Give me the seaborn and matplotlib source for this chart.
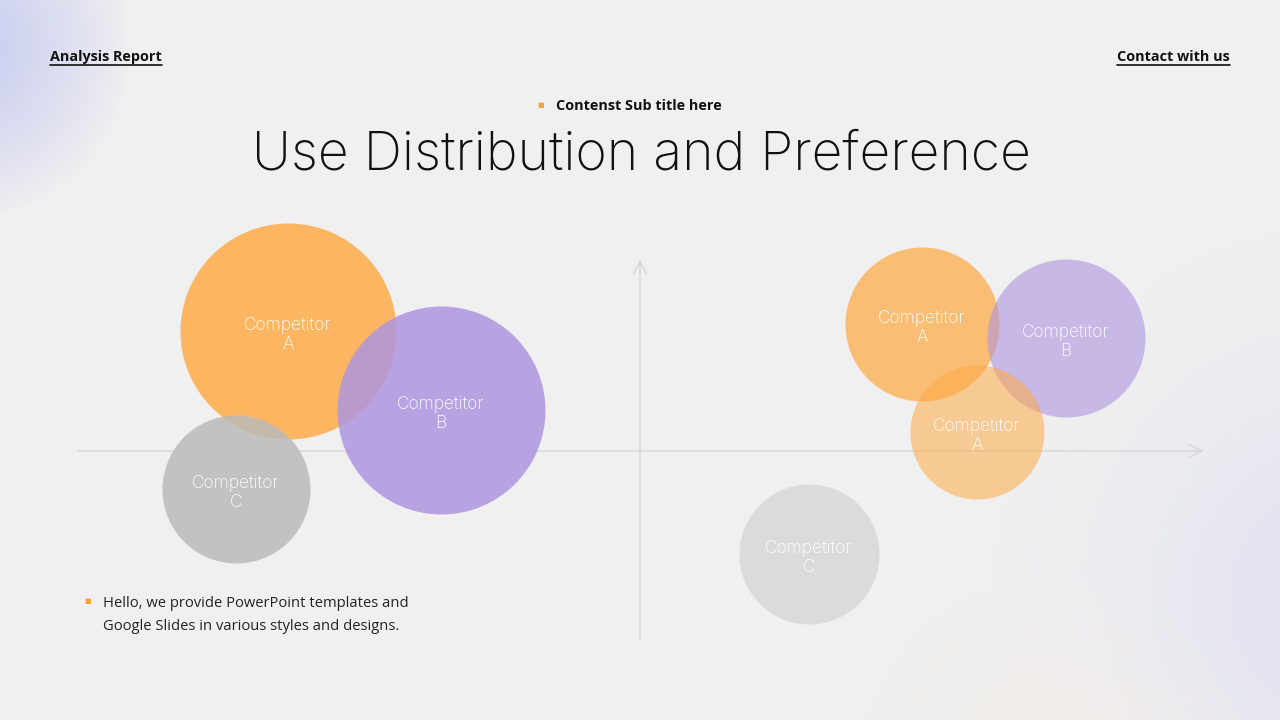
import numpy as np
import pandas as pd
import matplotlib.pyplot as plt
import seaborn as sns

# ==============================================================================
# DATOS
# ==============================================================================
grupos = ["left", "left", "left", "right", "right", "right", "right"]
competidores = ["A", "B", "C", "A", "B", "A", "C"]
pos_x = [-352, -199, -404, 282, 426, 337, 169]
pos_y = [120, 41, -38, 127, 113, 19, -103]
radio = [108, 104, 74, 77, 79, 67, 70]
opacidad = [0.84, 0.84, 0.84, 0.72, 0.60, 0.54, 0.38]

colores = {"A": "#FFAA44", "B": "#AE94E0", "C": "#BABABA"}

titulo = "Use Distribution and Preference"
subtitulo = "Contenst Sub title here"
texto_pie = "Hello, we provide PowerPoint templates and\nGoogle Slides in various styles and designs."

W, H, DPI = 1280, 720, 100
FONDO = "#F0F0F0"


def fondo_degradado():
    yy, xx = np.mgrid[0:H, 0:W].astype(float)
    img = np.ones((H, W, 3)) * 240.0
    # mancha lila arriba a la izquierda
    d = np.hypot(xx + 35, (yy - 45) / 1.05)
    w = np.clip(1 - d / 165, 0, 1) ** 0.85 * 0.95
    img = img * (1 - w[..., None]) + np.array([196, 200, 240]) * w[..., None]
    # mancha lavanda abajo a la derecha
    d = np.hypot(xx - 1330, (yy - 600) / 1.1)
    w = np.clip(1 - d / 340, 0, 1) ** 1.3 * 0.8
    img = img * (1 - w[..., None]) + np.array([220, 220, 242]) * w[..., None]
    # mancha melocoton abajo
    d = np.hypot(xx - 1070, (yy - 760) / 0.9)
    w = np.clip(1 - d / 210, 0, 1) ** 1.3 * 0.6
    img = img * (1 - w[..., None]) + np.array([248, 236, 226]) * w[..., None]
    return img / 255.0


def main():
    sns.set_style("white")
    plt.rcParams["font.family"] = ["Inter", "DejaVu Sans"]

    df = pd.DataFrame({
        "grupo": grupos,
        "competidor": competidores,
        "x": pos_x,
        "y": pos_y,
        "r": radio,
        "alpha": opacidad,
    })

    fig = plt.figure(figsize=(W / DPI, H / DPI), dpi=DPI, facecolor=FONDO)
    ax = fig.add_axes([0, 0, 1, 1])
    ax.set_xlim(-640, 640)
    ax.set_ylim(-269, 451)
    ax.set_aspect("equal")
    ax.axis("off")

    ax.imshow(fondo_degradado(), extent=(-640, 640, -269, 451), zorder=0, aspect="auto")

    # ejes en cruz
    gris = "#D6D6D6"
    ax.annotate("", xy=(566, 0), xytext=(-565, 0),
                arrowprops=dict(arrowstyle="->,head_length=0.9,head_width=0.45", color=gris, lw=1),
                zorder=1)
    ax.annotate("", xy=(0, 194), xytext=(0, -191),
                arrowprops=dict(arrowstyle="->,head_length=0.9,head_width=0.45", color=gris, lw=1),
                zorder=1)

    # burbujas
    for i, row in df.iterrows():
        diam_pt = 2 * row["r"] * 72 / DPI
        sns.scatterplot(x=[row["x"]], y=[row["y"]], s=diam_pt ** 2,
                        color=colores[row["competidor"]], alpha=row["alpha"],
                        linewidth=0, ax=ax, zorder=2 + i, legend=False)
        ax.text(row["x"], row["y"] - 4, f"Competitor\n{row['competidor']}",
                ha="center", va="center", color="white", fontsize=12.5,
                fontweight="light", linespacing=1.1, zorder=20)

    ax.set_xlim(-640, 640)
    ax.set_ylim(-269, 451)

    # textos
    fig.text(641 / W, 1 - 155 / H, titulo, ha="center", va="center",
             fontsize=38.5, fontweight="light", color="#111111")

    sans = ["Open Sans", "DejaVu Sans"]
    fig.text(556 / W, 1 - 106 / H, subtitulo, ha="left", va="center",
             fontsize=10.4, fontweight="bold", color="#111111", family=sans)
    fig.text(541 / W, 1 - 105 / H, "\u25A0", ha="center", va="center",
             fontsize=5, color="#F8A237", family=sans)

    t1 = fig.text(50 / W, 1 - 57 / H, "Analysis Report", ha="left", va="center",
                  fontsize=10.4, fontweight="bold", color="#111111", family=sans)
    t2 = fig.text(1230 / W, 1 - 57 / H, "Contact with us", ha="right", va="center",
                  fontsize=10.4, fontweight="bold", color="#111111", family=sans)

    fig.text(88 / W, 1 - 602 / H, "\u25A0", ha="center", va="center",
             fontsize=5, color="#F8A237", family=sans)
    fig.text(103 / W, 1 - 615 / H, texto_pie, ha="left", va="center",
             fontsize=10.6, color="#222222", family=sans, linespacing=1.75)

    # subrayado
    fig.canvas.draw()
    r = fig.canvas.get_renderer()
    for t in (t1, t2):
        bb = t.get_window_extent(r)
        yl = (H - 65) / H
        fig.add_artist(plt.Line2D([bb.x0 / W, bb.x1 / W], [yl, yl],
                                  transform=fig.transFigure, color="#111111", lw=1.2))

    fig.savefig("out.png", dpi=DPI, facecolor=FONDO)
    plt.close(fig)


if __name__ == "__main__":
    main()
